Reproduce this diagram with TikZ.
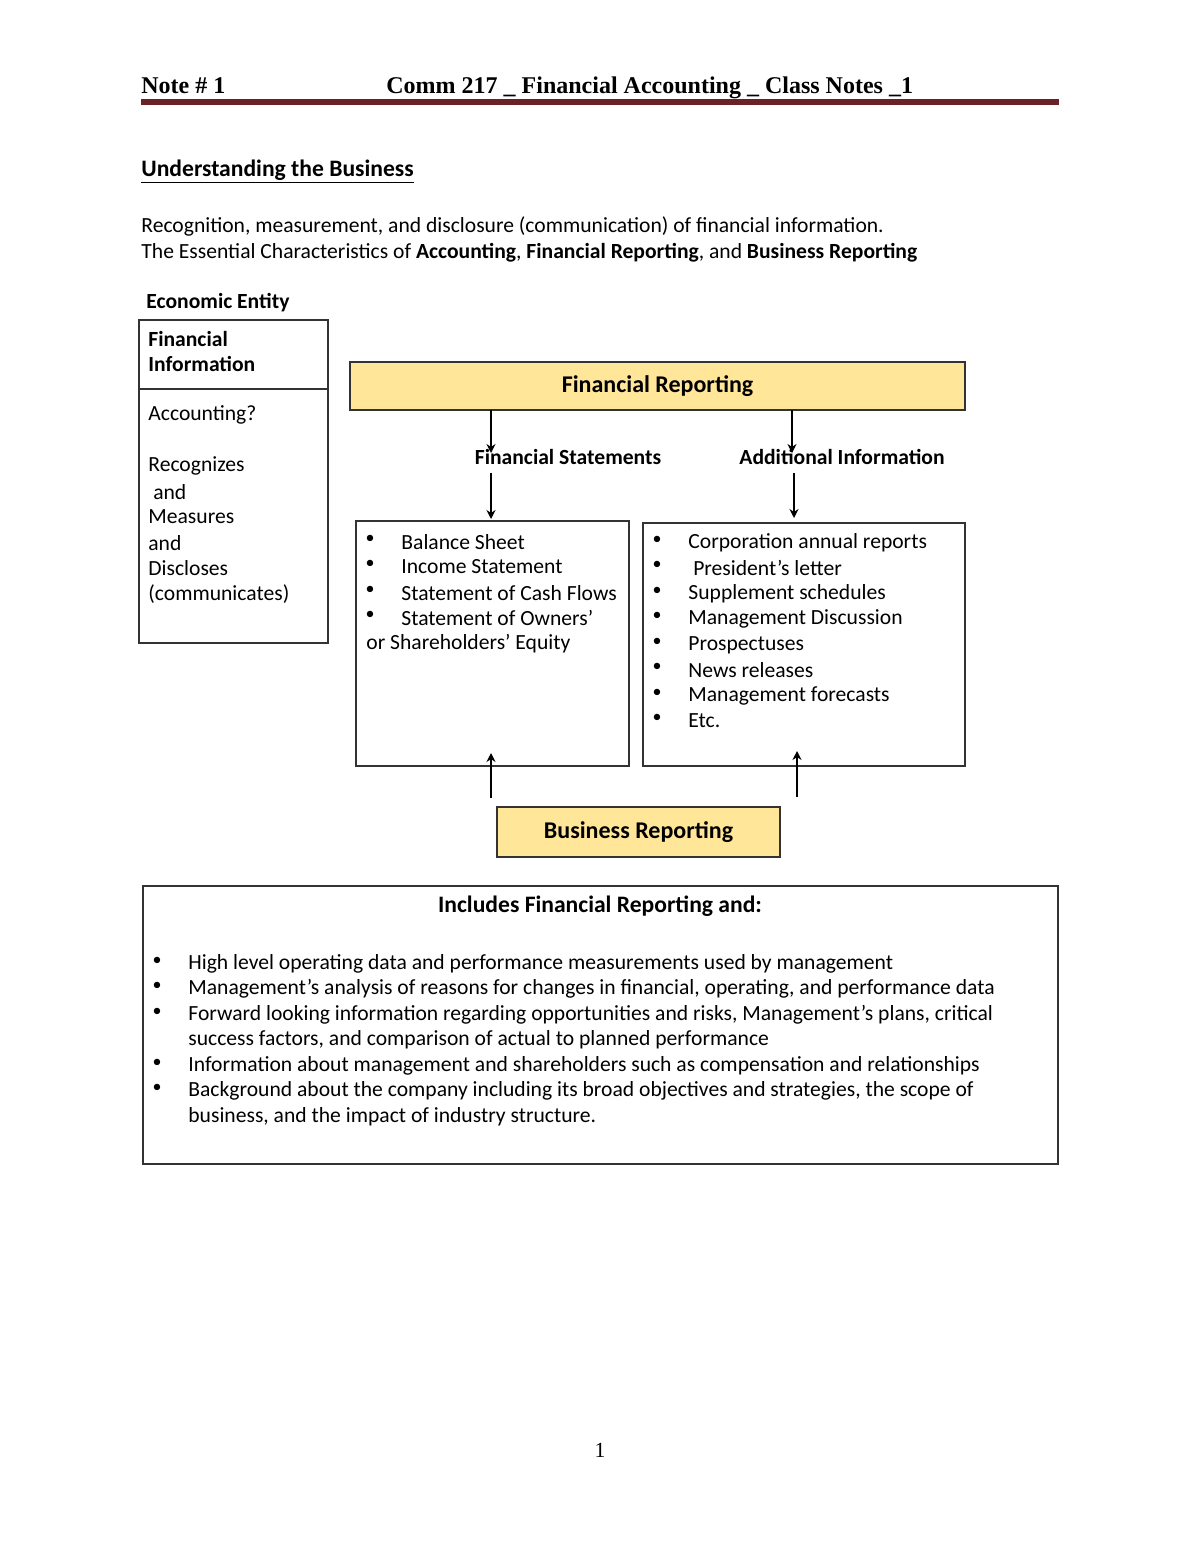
\documentclass[tikz,border=0pt]{standalone}
\usepackage{fontspec}
\setmainfont{Carlito}
\newfontfamily\hdrfont{Liberation Serif}
\usetikzlibrary{arrows.meta}
\definecolor{hdrred}{HTML}{6B2226}
\definecolor{gold}{HTML}{FFE699}
\definecolor{boxline}{HTML}{333333}
\tikzset{
  txt/.style={anchor=west, inner sep=0pt, font=\fontsize{10.8}{12.7}\selectfont},
  btxt/.style={txt, font=\fontsize{10.8}{12.7}\selectfont\bfseries},
  plainbox/.style={draw=boxline, line width=0.75pt, inner sep=0pt},
  goldbox/.style={plainbox, fill=gold, font=\fontsize{12}{14}\selectfont\bfseries},
  arr/.style={line width=1.2pt, -{Stealth[length=4.5pt,width=4.5pt]}},
  bul/.style={anchor=center, inner sep=0pt, font=\fontsize{9}{10}\selectfont},
}
\begin{document}
\begin{tikzpicture}[x=0.5pt,y=-0.5pt]
\path[use as bounding box, fill=white] (0,0) rectangle (1200,1553);

% header
\node[anchor=base west, inner sep=0pt, font=\hdrfont\fontsize{12}{14}\selectfont\bfseries] (hnote) at (141,93) {Note \# 1};
\node[anchor=base west, inner sep=0pt, font=\hdrfont\fontsize{12}{14}\selectfont\bfseries] (htitle) at (386,93) {Comm 217 \_ Financial Accounting \_ Class Notes \_1};
\fill[hdrred] (141,99) rectangle (1059,105);

% intro
\node[anchor=base west, inner sep=0pt, font=\fontsize{11.8}{13}\selectfont\bfseries] (under) at (141,176) {\underline{Understanding the Business}};
\node[anchor=base west, inner sep=0pt, font=\fontsize{10.8}{12.7}\selectfont] (l1) at (141,232) {Recognition, measurement, and disclosure (communication) of financial information.};
\node[anchor=base west, inner sep=0pt, font=\fontsize{10.8}{12.7}\selectfont] (l2) at (141,258) {The Essential Characteristics of \textbf{Accounting}, \textbf{Financial Reporting}, and \textbf{Business Reporting}};

% economic entity
\node[anchor=base west, inner sep=0pt, font=\fontsize{10.8}{12.7}\selectfont\bfseries] (ee) at (146,308) {Economic Entity};
\node[plainbox, minimum width=94.5pt, minimum height=161.5pt] (ebox) at (233.5,481.5) {};
\draw[boxline, line width=1.2pt] (ebox.west |- 0,389) -- (ebox.east |- 0,389);
\node[btxt] (fi1) at (148,339) {Financial};
\node[btxt] (fi2) at (148,364) {Information};
\node[txt] (e1) at (148,415) {Accounting?};
\node[txt] (e2) at (148,466) {Recognizes};
\node[txt] (e3) at (148,492) {\ and};
\node[txt] (e4) at (148,517) {Measures};
\node[txt] (e5) at (148,543) {and};
\node[txt] (e6) at (148,568) {Discloses};
\node[txt] (e7) at (148,594) {(communicates)};

% financial reporting
\node[goldbox, minimum width=307.5pt, minimum height=24pt] (fr) at (657.5,386) {Financial Reporting};
\node[btxt, anchor=center] (fsl) at (568,457) {Financial Statements};
\node[btxt, anchor=center] (ail) at (842,457) {Additional Information};

\node[plainbox, minimum width=136.5pt, minimum height=122.5pt] (fsbox) at (492.5,643.5) {};
\node[plainbox, minimum width=161pt, minimum height=121.5pt] (aibox) at (804,644.5) {};

\coordinate (a1s) at (491,410); \coordinate (a1e) at (491,453);
\coordinate (a2s) at (792,410); \coordinate (a2e) at (792,453);
\coordinate (a3s) at (491,473); \coordinate (a3e) at (491,519);
\coordinate (a4s) at (794,473); \coordinate (a4e) at (794,518);
\draw[arr] (a1s) -- (a1e);
\draw[arr] (a2s) -- (a2e);
\draw[arr] (a3s) -- (a3e);
\draw[arr] (a4s) -- (a4e);

% FS items
\foreach \y/\t [count=\i] in {542/Balance Sheet,567/Income Statement,593/Statement of Cash Flows,618/Statement of Owners’}{
  \node[bul] (fsb\i) at (370,\y-3) {•};
  \node[txt] (fst\i) at (401,\y) {\t};
}
\node[txt] (fst5) at (366,644) {or Shareholders’ Equity};

% AI items
\foreach \y/\t [count=\i] in {543/Corporation annual reports,568/\ President’s letter,594/Supplement schedules,619/Management Discussion,645/Prospectuses,670/News releases,696/Management forecasts,721/Etc.}{
  \node[bul] (aib\i) at (657,\y-3) {•};
  \node[txt] (ait\i) at (688,\y) {\t};
}

% business reporting
\node[goldbox, minimum width=141.5pt, minimum height=25pt] (br) at (638.5,832) {Business Reporting};
\coordinate (b1s) at (491,798); \coordinate (b1e) at (491,753);
\coordinate (b2s) at (797,797); \coordinate (b2e) at (797,751);
\draw[arr] (b1s) -- (b1e);
\draw[arr] (b2s) -- (b2e);

% bottom box
\node[plainbox, minimum width=457.5pt, minimum height=139pt] (inc) at (600.5,1025) {};
\node[anchor=center, inner sep=0pt, font=\fontsize{11.8}{13}\selectfont\bfseries] (inct) at (600,906) {Includes Financial Reporting and:};
\foreach \y [count=\i] in {964,989,1015,1066,1091}{
  \node[bul] (incb\i) at (157,\y-3) {•};
}
\node[txt] (inc1) at (188,964) {High level operating data and performance measurements used by management};
\node[txt] (inc2) at (188,989) {Management’s analysis of reasons for changes in financial, operating, and performance data};
\node[txt] (inc3) at (188,1015) {Forward looking information regarding opportunities and risks, Management’s plans, critical};
\node[txt] (inc3b) at (188,1040) {success factors, and comparison of actual to planned performance};
\node[txt] (inc4) at (188,1066) {Information about management and shareholders such as compensation and relationships};
\node[txt] (inc5) at (188,1091) {Background about the company including its broad objectives and strategies, the scope of};
\node[txt] (inc5b) at (188,1117) {business, and the impact of industry structure.};

% page number
\node[anchor=center, inner sep=0pt, font=\hdrfont\fontsize{10.8}{12}\selectfont] (pg) at (600,1450) {1};
\end{tikzpicture}
\end{document}
